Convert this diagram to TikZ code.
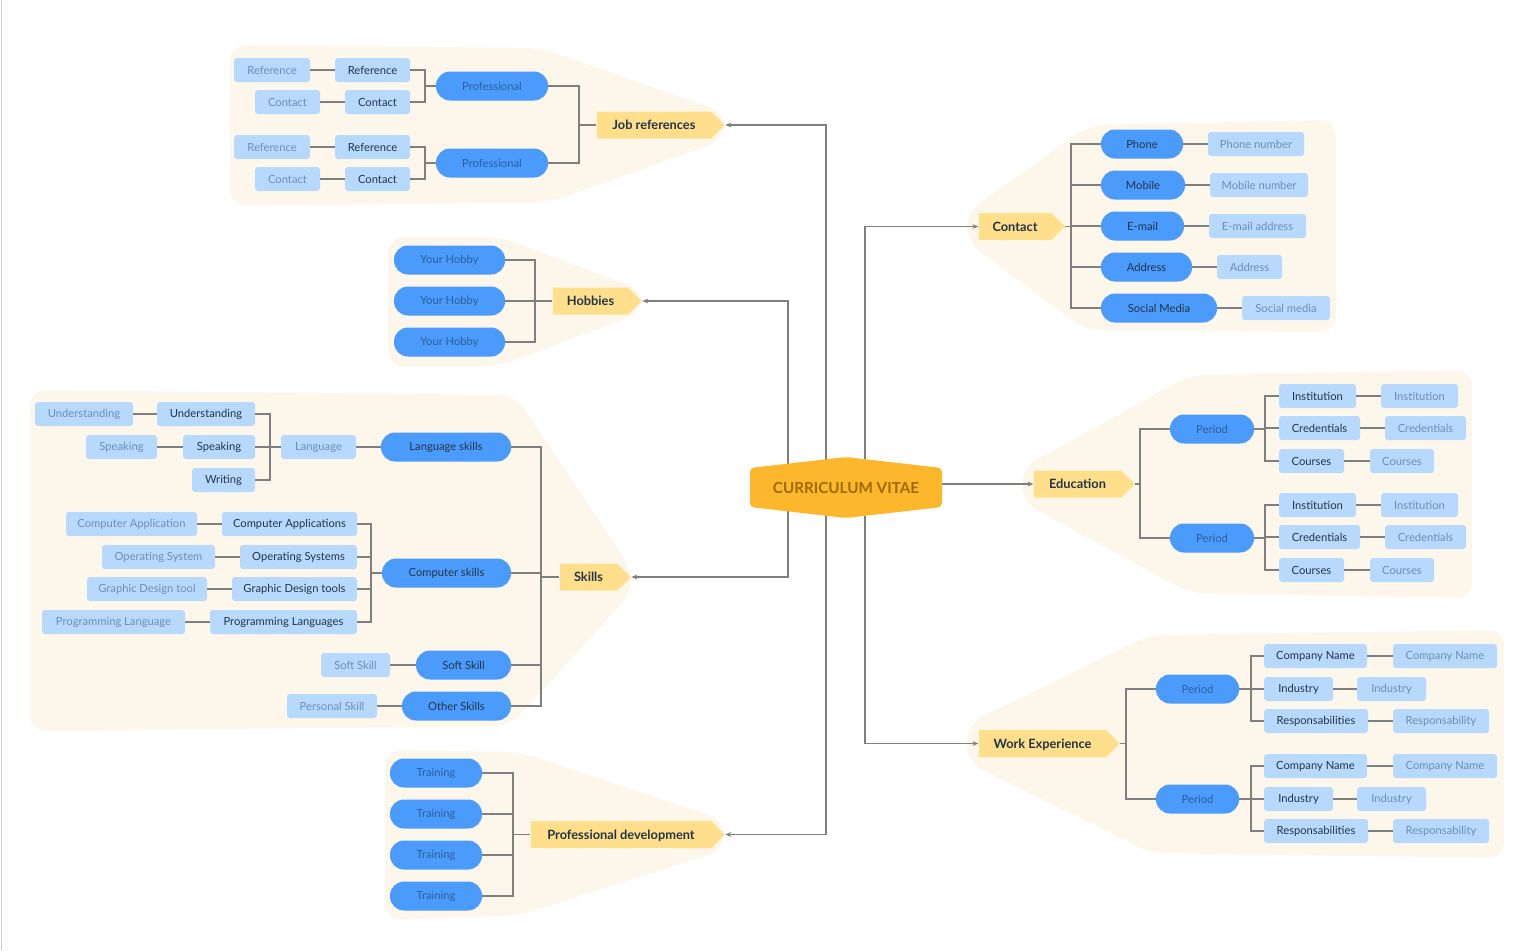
\documentclass[tikz,border=0pt]{standalone}
\usepackage{fontspec}
\setmainfont{Lato}
\usetikzlibrary{shapes.symbols,arrows.meta}
\definecolor{cream}{HTML}{FDF6EA}
\definecolor{pillc}{HTML}{4A9BFB}
\definecolor{lb}{HTML}{B7D9FE}
\definecolor{leaft}{HTML}{6E8DB3}
\definecolor{darkt}{HTML}{243447}
\definecolor{pilltxt}{HTML}{2F5E9E}
\definecolor{tagc}{HTML}{FFDF8C}
\definecolor{hexc}{HTML}{FDB72C}
\definecolor{hext}{HTML}{9C6B00}
\definecolor{linec}{HTML}{7F7F7F}
\begin{document}
\begin{tikzpicture}[x=0.5pt,y=-0.5pt,
  every node/.style={inner sep=0pt,font=\fontsize{5.6}{6}\selectfont},
  pill/.style={fill=pillc,rounded corners=7pt,minimum height=14.5pt,minimum width=#1*0.5pt,text=darkt},
  pillb/.style={pill=#1,text=pilltxt},
  ib/.style={fill=lb,rounded corners=1.5pt,minimum height=12pt,minimum width=#1*0.5pt,text=darkt},
  lf/.style={ib=#1,text=leaft},
  tag/.style={signal,signal to=east,signal pointer angle=90,fill=tagc,text=darkt,minimum height=13.5pt,minimum width=#1*0.5pt,font=\fontsize{6.4}{7}\selectfont\bfseries,text depth=0pt},
  bg/.style={fill=cream,rounded corners=8pt},
  ln/.style={draw=linec,line width=0.55pt},
  ar/.style={ln,-{Stealth[length=3pt,width=2.4pt]}}]
\useasboundingbox (0,0) rectangle (1536,950);
\fill[white] (0,0) rectangle (1536,950);
\draw[linec!40,line width=0.5pt] (1,0) -- (1,950);
% backgrounds
\path[bg] (230,45) -- (540,48) -- (724,112) -- (724,140) -- (550,202) -- (230,206) -- cycle;
\path[bg] (388,237) -- (500,237) -- (642,290) -- (642,312) -- (500,366) -- (388,366) -- cycle;
\path[bg] (30,390) -- (515,395) -- (632,570) -- (632,592) -- (510,726) -- (30,731) -- cycle;
\path[bg] (385,750) -- (520,752) -- (724,820) -- (724,850) -- (520,915) -- (385,920) -- cycle;
\path[bg] (1090,125) -- (1336,120) -- (1336,332) -- (1085,330) -- (967,242) -- (967,212) -- cycle;
\path[bg] (1190,375) -- (1472,370) -- (1472,598) -- (1190,593) -- (1022,502) -- (1022,468) -- cycle;
\path[bg] (1150,635) -- (1504,630) -- (1504,858) -- (1150,853) -- (967,762) -- (967,724) -- cycle;
% tags
\node[tag=128] (job) at (654,125) {Job references};
\node[tag=89] (hob) at (590.5,301) {Hobbies};
\node[tag=71] (ski) at (588.5,577) {Skills};
\node[tag=194] (pd) at (621,834.5) {Professional development};
\node[tag=86] (con) at (1015,226.5) {Contact};
\node[tag=101] (edu) at (1077.5,484) {Education};
\node[tag=141] (we) at (1042.5,743.5) {Work Experience};
% ---- Job references
\node[pillb=112] (p1) at (492,86) {Professional};
\node[pillb=112] (p2) at (492,163) {Professional};
\node[ib=75] (r1) at (372.5,70) {Reference};
\node[ib=65] (c1) at (377.5,102) {Contact};
\node[ib=75] (r2) at (372.5,147) {Reference};
\node[ib=65] (c2) at (377.5,179) {Contact};
\node[lf=76] (lr1) at (272,70) {Reference};
\node[lf=65] (lc1) at (287.5,102) {Contact};
\node[lf=76] (lr2) at (272,147) {Reference};
\node[lf=65] (lc2) at (287.5,179) {Contact};
\coordinate (jb) at (579,125);
\coordinate (pb1) at (425,86);
\coordinate (pb2) at (425,163);
\foreach \c in {p1,p2} \draw[ln] (\c.east) -| (jb) -- (job.west);
\foreach \c in {r1,c1} \draw[ln] (\c.east) -| (pb1) -- (p1.west);
\foreach \c in {r2,c2} \draw[ln] (\c.east) -| (pb2) -- (p2.west);
\draw[ln] (lr1) -- (r1); \draw[ln] (lc1) -- (c1);
\draw[ln] (lr2) -- (r2); \draw[ln] (lc2) -- (c2);
% ---- Hobbies
\node[pillb=111] (h1) at (449.5,260) {Your Hobby};
\node[pillb=111] (h2) at (449.5,301) {Your Hobby};
\node[pillb=111] (h3) at (449.5,342) {Your Hobby};
\coordinate (hb) at (535,301);
\foreach \c in {h1,h2,h3} \draw[ln] (\c.east) -| (hb) -- (hob.west);
% ---- Skills
\node[pill=130] (ls) at (446,447) {Language skills};
\node[pill=129] (cs) at (446.5,573) {Computer skills};
\node[pill=95] (ss) at (463.5,665) {Soft Skill};
\node[pill=109] (os) at (456.5,706) {Other Skills};
\coordinate (sb) at (541,577);
\foreach \c in {ls,cs,ss,os} \draw[ln] (\c.east) -| (sb) -- (ski.west);
\node[lf=75] (lang) at (318.5,447) {Language};
\draw[ln] (lang) -- (ls);
\node[ib=98] (u) at (206,414) {Understanding};
\node[ib=72] (sp) at (219,447) {Speaking};
\node[ib=63] (wr) at (223.5,480) {Writing};
\coordinate (lb2) at (270,447);
\foreach \c in {u,sp,wr} \draw[ln] (\c.east) -| (lb2) -- (lang.west);
\node[lf=98] (lu) at (84,414) {Understanding};
\node[lf=71] (lsp) at (121.5,447) {Speaking};
\draw[ln] (lu) -- (u); \draw[ln] (lsp) -- (sp);
\node[ib=135] (ca) at (289.5,524) {Computer Applications};
\node[ib=117] (osy) at (298.5,557) {Operating Systems};
\node[ib=125] (gd) at (294.5,589) {Graphic Design tools};
\node[ib=147] (pl) at (283.5,622) {Programming Languages};
\coordinate (cb) at (371,573);
\foreach \c in {ca,osy,gd,pl} \draw[ln] (\c.east) -| (cb) -- (cs.west);
\node[lf=131] (lca) at (131.5,524) {Computer Application};
\node[lf=113] (los) at (158.5,557) {Operating System};
\node[lf=120] (lgd) at (147,589) {Graphic Design tool};
\node[lf=143] (lpl) at (113.5,622) {Programming Language};
\draw[ln] (lca) -- (ca); \draw[ln] (los) -- (osy); \draw[ln] (lgd) -- (gd); \draw[ln] (lpl) -- (pl);
\node[lf=69] (lss) at (355.5,665) {Soft Skill};
\node[lf=90] (lps) at (332,706) {Personal Skill};
\draw[ln] (lss) -- (ss); \draw[ln] (lps) -- (os);
% ---- Professional development
\node[pillb=92] (t1) at (436,773) {Training};
\node[pillb=92] (t2) at (436,814) {Training};
\node[pillb=92] (t3) at (436,855) {Training};
\node[pillb=92] (t4) at (436,896) {Training};
\coordinate (tb) at (513,834.5);
\foreach \c in {t1,t2,t3,t4} \draw[ln] (\c.east) -| (tb) -- (pd.west);
% ---- Contact
\node[pill=82] (ph) at (1142,144) {Phone};
\node[pill=84] (mo) at (1143,185) {Mobile};
\node[pill=83] (em) at (1142.5,226) {E-mail};
\node[pill=91] (ad) at (1146.5,267) {Address};
\node[pill=116] (sm) at (1159,308) {Social Media};
\coordinate (cob) at (1071,226.5);
\foreach \c in {ph,mo,em,ad,sm} \draw[ln] (con.east) -- (cob) |- (\c.west);
\node[lf=96] (lph) at (1256,144) {Phone number};
\node[lf=98] (lmo) at (1259,185) {Mobile number};
\node[lf=97] (lem) at (1257.5,226) {E-mail address};
\node[lf=65] (lad) at (1249.5,267) {Address};
\node[lf=88] (lsm) at (1286,308) {Social media};
\draw[ln] (ph) -- (lph); \draw[ln] (mo) -- (lmo); \draw[ln] (em) -- (lem); \draw[ln] (ad) -- (lad); \draw[ln] (sm) -- (lsm);
% ---- Education
\node[pillb=84] (e1) at (1212,429) {Period};
\node[pillb=84] (e2) at (1212,538) {Period};
\coordinate (eb) at (1140,484);
\foreach \c in {e1,e2} \draw[ln] (edu.east) -- (eb) |- (\c.west);
\foreach \p/\y in {e1/0,e2/109}{
  \node[ib=77] (\p i) at (1317.5,396+\y) {Institution};
  \node[ib=81] (\p c) at (1319.5,428+\y) {Credentials};
  \node[ib=65] (\p o) at (1311.5,461+\y) {Courses};
  \coordinate (\p b) at (1265,429+\y);
  \foreach \c in {\p i,\p c,\p o} \draw[ln] (\p.east) -- (\p b) |- (\c.west);
  \node[lf=77] (\p li) at (1419.5,396+\y) {Institution};
  \node[lf=81] (\p lc) at (1425.5,428+\y) {Credentials};
  \node[lf=64] (\p lo) at (1402,461+\y) {Courses};
  \draw[ln] (\p i) -- (\p li); \draw[ln] (\p c) -- (\p lc); \draw[ln] (\p o) -- (\p lo);
}
% ---- Work experience
\node[pillb=83] (w1) at (1197.5,689) {Period};
\node[pillb=83] (w2) at (1197.5,799) {Period};
\coordinate (wb) at (1126,743.5);
\foreach \c in {w1,w2} \draw[ln] (we.east) -- (wb) |- (\c.west);
\foreach \p/\y in {w1/0,w2/110}{
  \node[ib=103] (\p n) at (1315.5,656+\y) {Company Name};
  \node[ib=69] (\p d) at (1298.5,689+\y) {Industry};
  \node[ib=104] (\p r) at (1316,721+\y) {Responsabilities};
  \coordinate (\p b) at (1251,689+\y);
  \foreach \c in {\p n,\p d,\p r} \draw[ln] (\p.east) -- (\p b) |- (\c.west);
  \node[lf=104] (\p ln) at (1445,656+\y) {Company Name};
  \node[lf=69] (\p ld) at (1391.5,689+\y) {Industry};
  \node[lf=96] (\p lr) at (1441,721+\y) {Responsability};
  \draw[ln] (\p n) -- (\p ln); \draw[ln] (\p d) -- (\p ld); \draw[ln] (\p r) -- (\p lr);
}
% ---- trunks
\coordinate (ta) at (826,487);
\coordinate (tbb) at (788,487);
\coordinate (tc) at (865,487);
\draw[ar] (ta) |- (job.east);
\draw[ar] (ta) |- (pd.east);
\draw[ar] (tbb) |- (hob.east);
\draw[ar] (tbb) |- (ski.east);
\draw[ar] (tc) |- (con.west);
\draw[ar] (tc) |- (we.west);
% ---- central
\fill[hexc,rounded corners=2pt] (750,468) -- (846,457) -- (942,468) -- (942,507) -- (846,518) -- (750,507) -- cycle;
\node[text=hext,font=\fontsize{7.6}{8}\selectfont\bfseries] (cv) at (846,487.5) {CURRICULUM VITAE};
\coordinate (cve) at (942,484);
\draw[ar] (cve) -- (edu.west);
\end{tikzpicture}
\end{document}
